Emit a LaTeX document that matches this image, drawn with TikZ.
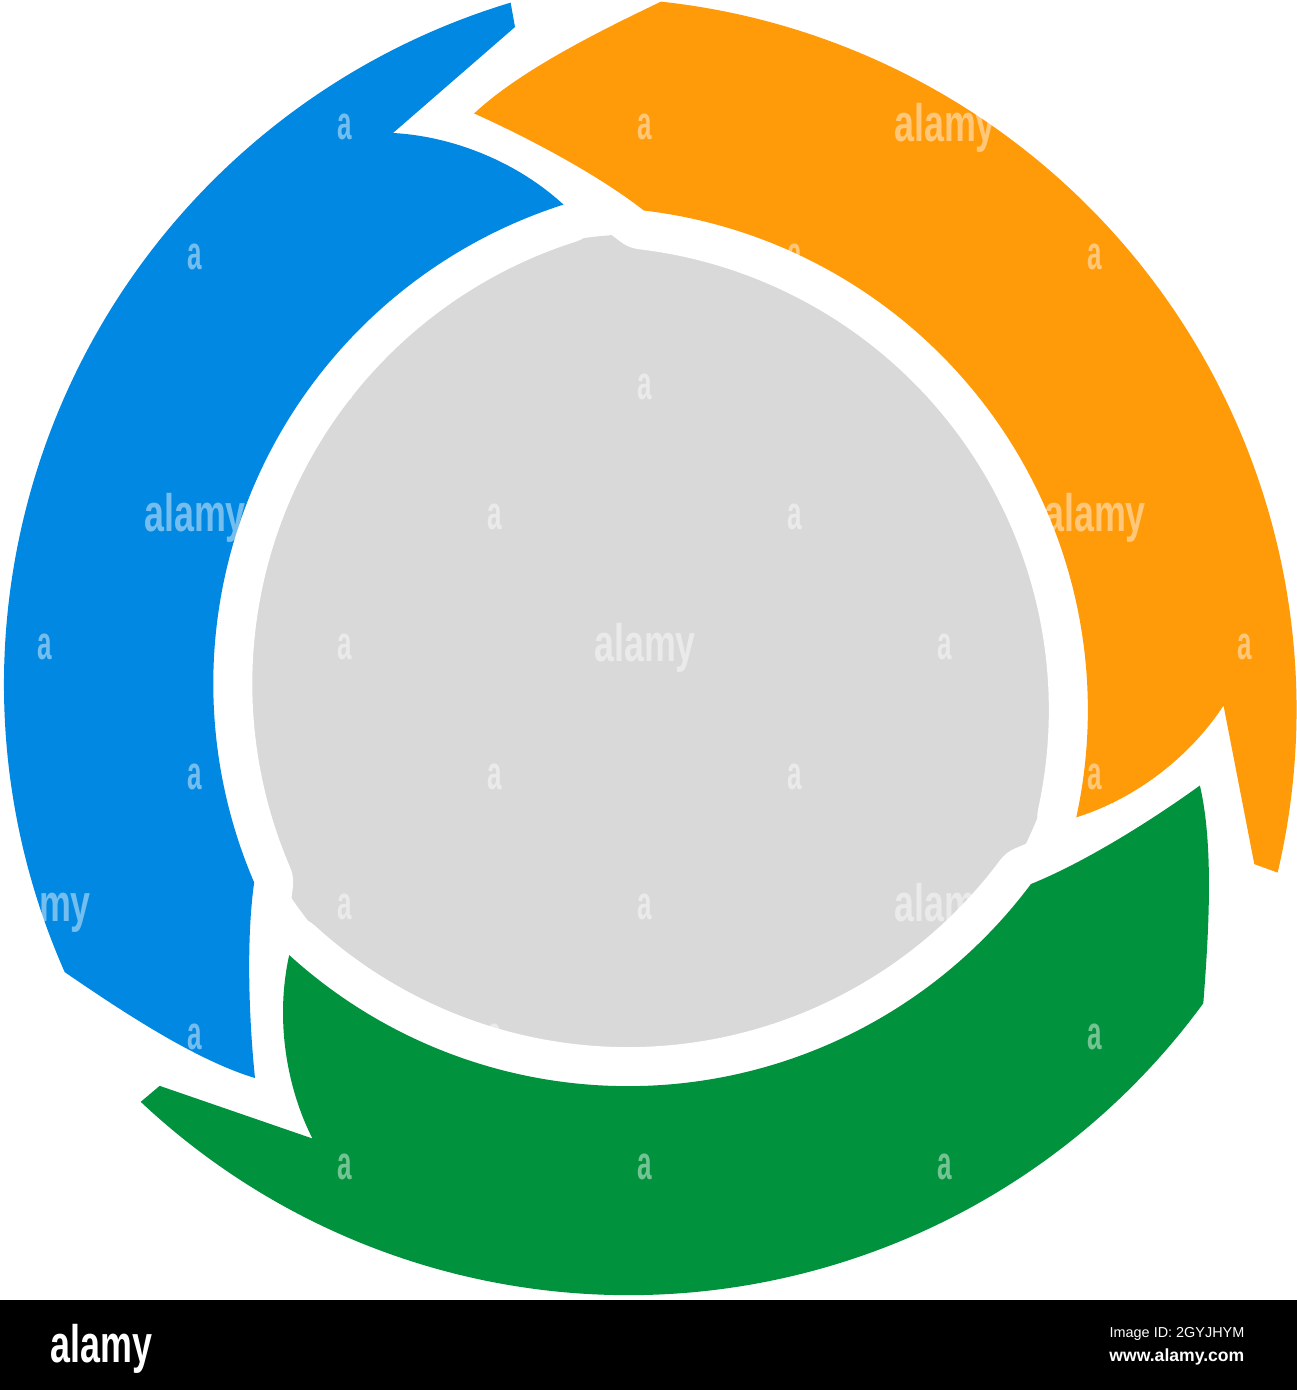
\documentclass[tikz,border=0pt]{standalone}
\usepackage{fontspec}
\setmainfont{Liberation Sans}
\usepackage{graphicx}
\definecolor{bandblue}{RGB}{0,136,226}
\definecolor{bandorange}{RGB}{255,154,8}
\definecolor{bandgreen}{RGB}{0,146,60}
\definecolor{hubgray}{RGB}{217,217,217}

% one arrow band (the blue one); the other two are this band turned about (643,659)
\def\bandpath{(64.7,972.1) arc[start angle=156.16, end angle=253.24, radius=712]
  -- (515,27) -- (393,133)
  .. controls (450,136) and (515,160) .. (563.5,204.6)
  arc[start angle=252.32, end angle=156.74, radius=503]
  .. controls (246,940) and (249,1020) .. (255,1078)
  .. controls (195,1060) and (120,1010) .. (64.7,972.1) -- cycle}

\tikzset{
  halo/.style={draw=white, line width=0.78cm, line join=round},
  turnorange/.style={rotate around={-120:(643,659)}},
  turngreen/.style={rotate around={-240:(643,659)}},
  wma/.style={anchor=base, inner sep=0pt, text=white, text opacity=0.45, font=\bfseries},
  wmtext/.style={anchor=base, inner sep=0pt, text=white, text opacity=0.45, font=\bfseries}
}

\begin{document}
\begin{tikzpicture}[x=0.01cm, y=-0.01cm]
\useasboundingbox (0,0) rectangle (1297,1390);
\fill[white] (0,0) rectangle (1297,1390);

% central hub
\fill[hubgray] (643,659) circle [radius=425];

% white gaps around the bands
\path[halo] \bandpath;
\path[halo, turnorange] \bandpath;
\path[halo, turngreen] \bandpath;

% the three arrow bands
\fill[bandblue] \bandpath;
\fill[bandorange, turnorange] \bandpath;
\fill[bandgreen, turngreen] \bandpath;

% watermark
\foreach \x/\y [count=\i] in {45/127,345/127,645/127,1245/127,
  195/257,495/257,795/257,1095/257,
  45/387,345/387,645/387,945/387,1245/387,
  495/517,795/517,
  45/647,345/647,945/647,1245/647,
  195/777,495/777,795/777,1095/777,
  345/907,645/907,1245/907,
  195/1037,495/1037,795/1037,1095/1037,
  45/1167,345/1167,645/1167,945/1167,1245/1167,
  195/1297,495/1297,795/1297,1095/1297}
  \node[wma] (wa\i) at (\x,\y+12) {\scalebox{0.55}[1]{\fontsize{13.5}{13.5}\selectfont a}};
\foreach \x/\y [count=\i] in {945/127,195/517,1095/517,645/647,40/907,945/907}
  \node[wmtext] (wt\i) at (\x,\y+14) {\scalebox{0.68}[1]{\fontsize{15}{15}\selectfont alamy}};

% footer bar
\fill[black] (0,1300) rectangle (1297,1390);
\node[anchor=base west, inner sep=0pt, text=white, font=\bfseries] (logo) at (50,1362) {\scalebox{0.68}[1]{\fontsize{15}{15}\selectfont alamy}};
\node[anchor=base east, inner sep=0pt, text=white] (imgid) at (1245,1337) {\fontsize{4.1}{5}\selectfont Image ID: 2GYJHYM};
\node[anchor=base east, inner sep=0pt, text=white, font=\bfseries] (site) at (1245,1361) {\fontsize{5}{6}\selectfont www.alamy.com};
\end{tikzpicture}
\end{document}
